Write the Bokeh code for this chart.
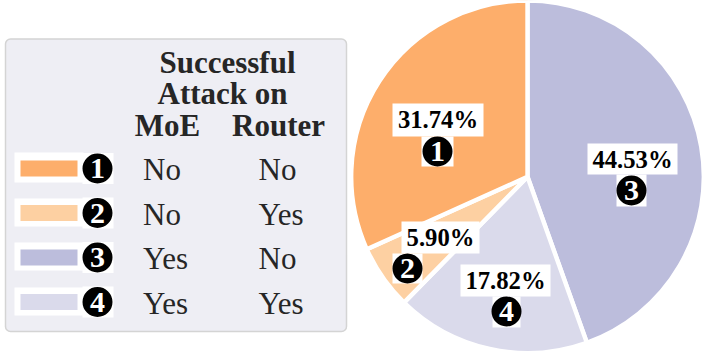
import math
from bokeh.plotting import figure
from bokeh.models import Range1d, ColumnDataSource, BoxAnnotation
from bokeh.core.properties import value
from bokeh.embed import file_html
from bokeh.resources import INLINE

# Data
slice_ids = ["3", "4", "2", "1"]
slice_values = [44.53, 17.82, 5.90, 31.74]
slice_labels = ["44.53%", "17.82%", "5.90%", "31.74%"]
slice_colors = ["#BCBDDC", "#DADAEB", "#FDD0A2", "#FDAE6B"]
legend_ids = ["1", "2", "3", "4"]
legend_colors = ["#FDAE6B", "#FDD0A2", "#BCBDDC", "#DADAEB"]
moe_answers = ["No", "No", "Yes", "Yes"]
router_answers = ["No", "Yes", "No", "Yes"]

W, H = 704, 353
FONT = value("Liberation Serif")
DARK = "#262626"

p = figure(width=W, height=H, output_backend="svg", toolbar_location=None,
           x_range=Range1d(0, W), y_range=Range1d(0, H), min_border=0,
           outline_line_color=None, background_fill_color="white")
p.xaxis.visible = False
p.yaxis.visible = False
p.grid.visible = False

def Y(v):
    return H - v

# pie, clockwise from 12 o'clock
cx, cy, r = 527, 176.3, 176.3
total = sum(slice_values)
starts, ends = [], []
a = math.pi / 2
for v in slice_values:
    b = a - v / total * 2 * math.pi
    starts.append(a)
    ends.append(b)
    a = b
src = ColumnDataSource(dict(s=starts, e=ends, c=slice_colors))
p.wedge(x=cx, y=Y(cy), radius=r, start_angle="s", end_angle="e", direction="clock",
        fill_color="c", line_color="white", line_width=4.4, source=src)

def marker(x, y, n, bx0, bx1, by0, by1):
    p.quad(left=bx0, right=bx1, top=Y(by0), bottom=Y(by1), fill_color="white", line_color=None)
    p.scatter(x=[x], y=[Y(y)], size=30, marker="circle", fill_color="black", line_color=None)
    p.text(x=[x], y=[Y(y)], text=[n], text_color="white", text_font=FONT, text_font_size="30px",
           text_font_style="bold", text_align="center", text_baseline="middle")

# pie labels: (label box, label centre, marker box, marker centre) per slice
pie_layout = {
    "3": ((587, 677, 143, 174), (632, 159), (616, 646, 174, 206), (631, 190)),
    "4": ((460, 550, 264, 296), (505, 280), (492, 520, 296, 327), (506, 311)),
    "2": ((401, 479, 221, 253), (440, 237), (392, 422, 253, 283), (407, 268)),
    "1": ((392, 483, 103, 136), (437.5, 119), (421, 453, 136, 166), (437, 151)),
}
for n, lab in zip(slice_ids, slice_labels):
    box, c, mbox, mc = pie_layout[n]
    p.quad(left=box[0], right=box[1], top=Y(box[2]), bottom=Y(box[3]), fill_color="white", line_color=None)
    p.text(x=[c[0]], y=[Y(c[1])], text=[lab], text_color="black", text_font=FONT, text_font_size="24.7px",
           text_font_style="bold", text_align="center", text_baseline="middle")
    marker(mc[0], mc[1], n, *mbox)

# legend panel
p.add_layout(BoxAnnotation(left=5, right=346, top=Y(38.5), bottom=Y(331), fill_color="#EEEEF4", fill_alpha=1,
                           line_color="#D4D4D4", line_alpha=1, line_width=1.5, border_radius=5, level="underlay"))

def header(x, y, s):
    p.text(x=[x], y=[Y(y)], text=[s], text_color=DARK, text_font=FONT, text_font_size="31px",
           text_font_style="bold", text_align="center", text_baseline="middle")

header(227, 62, "Successful")
header(222, 93, "Attack on")
header(167, 125, "MoE")
header(278, 125, "Router")

row_y = [168, 212.5, 257, 301.5]
box_tb = [(152, 182), (198, 226), (242, 270), (287, 315)]
for i, n in enumerate(legend_ids):
    y = row_y[i]
    t, b = box_tb[i]
    p.quad(left=14, right=83, top=Y(t), bottom=Y(b), fill_color="white", line_color=None)
    p.quad(left=20, right=77, top=Y(y - 8), bottom=Y(y + 8), fill_color=legend_colors[i], line_color=None)
    marker(97, y, n, 82, 113, y - 15.5, y + 15.5)
    p.text(x=[142.5], y=[Y(y + 1)], text=[moe_answers[i]], text_color=DARK, text_font=FONT, text_font_size="31px",
           text_align="left", text_baseline="middle")
    p.text(x=[258], y=[Y(y + 1)], text=[router_answers[i]], text_color=DARK, text_font=FONT, text_font_size="31px",
           text_align="left", text_baseline="middle")

open("out.html", "w").write(file_html(p, INLINE))
